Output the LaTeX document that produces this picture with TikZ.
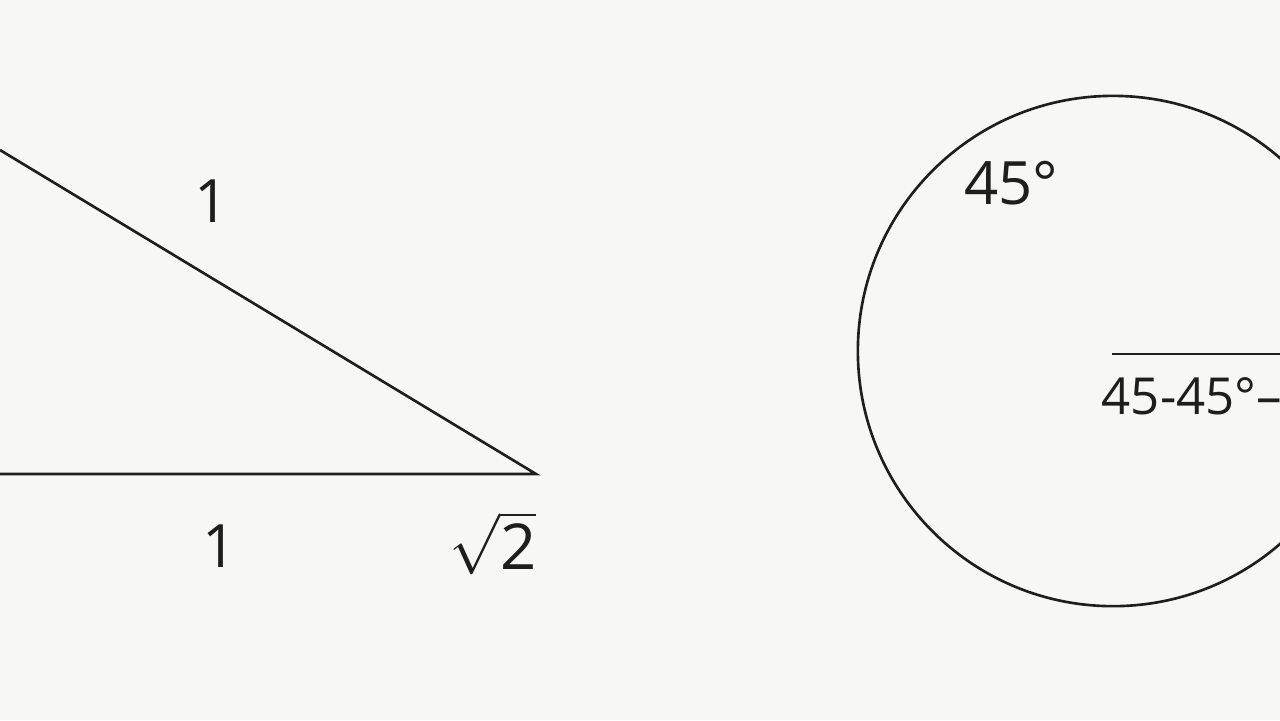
\documentclass[tikz,border=0pt]{standalone}
\usepackage{fontspec}
\setmainfont{Open Sans}
\definecolor{bg}{RGB}{247,247,245}
\definecolor{ink}{RGB}{30,30,30}
\begin{document}
\begin{tikzpicture}[x=0.01cm,y=-0.01cm,
  edge/.style={draw=ink,line width=0.75pt},
  lbl/.style={text=ink,inner sep=0pt,font=\fontsize{17}{20}\selectfont}]
\clip (0,0) rectangle (1280,720);
\fill[bg] (0,0) rectangle (1280,720);
\coordinate (A) at (0,150);
\coordinate (B) at (536,474);
\coordinate (C) at (0,474);
\draw[edge] (A) -- (B) -- (C);
\node[lbl] (l1) at (212,201) {1};
\node[lbl] (l2) at (220,546) {1};
\node[lbl,font=\fontsize{18}{20}\selectfont] (l3) at (493,543) {$\sqrt{\mbox{2}}$};
\node[edge,circle,minimum size=5.1cm,inner sep=0pt] (circ) at (1113,351) {};
\coordinate (H1) at (1112,354);
\coordinate (H2) at (1285,354);
\draw[edge] (H1) -- (H2);
\node[lbl] (a1) at (1011,183) {45°};
\node[lbl,anchor=west,font=\fontsize{14.5}{17}\selectfont] (a2) at (1101,396) {45-45°–};
\end{tikzpicture}
\end{document}
